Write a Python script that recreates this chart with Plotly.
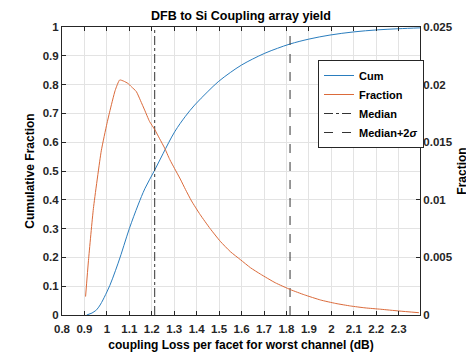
import plotly.graph_objects as go

# Cumulative curve (left axis)
cum_loss = [0.91, 0.95, 1.0, 1.05, 1.1, 1.139, 1.17, 1.213, 1.25, 1.302, 1.35, 1.391, 1.45,
            1.496, 1.55, 1.6, 1.65, 1.704, 1.76, 1.816, 1.9, 1.994, 2.1, 2.204, 2.3, 2.395]
cum_vals = [0.0, 0.015, 0.08, 0.18, 0.30, 0.382, 0.44, 0.503, 0.56, 0.636, 0.69, 0.729, 0.776,
            0.81, 0.842, 0.868, 0.889, 0.909, 0.926, 0.941, 0.958, 0.972, 0.983, 0.99, 0.994, 0.997]

# Fraction curve (right axis)
frac_loss = [0.905, 0.918, 0.94, 0.975, 1.0, 1.012, 1.037, 1.057, 1.075, 1.094, 1.11,
             1.131, 1.15, 1.168, 1.19, 1.213, 1.235, 1.257, 1.28, 1.302, 1.327, 1.35, 1.377,
             1.416, 1.46, 1.505, 1.55, 1.595, 1.64, 1.684, 1.75, 1.818, 1.88, 1.952, 2.02,
             2.086, 2.15, 2.22, 2.3, 2.39]
frac_vals = [0.0016, 0.00475, 0.00925, 0.01425, 0.0166, 0.0176, 0.0195, 0.0204, 0.0203,
             0.0201, 0.0198, 0.0194, 0.0186, 0.0178, 0.0168, 0.0161, 0.0153, 0.0145, 0.0135,
             0.0127, 0.0118, 0.0109, 0.0099, 0.0087, 0.0075, 0.0064, 0.0055, 0.0048, 0.0041,
             0.00355, 0.0028, 0.0022, 0.00175, 0.0013, 0.0010, 0.00078, 0.00062, 0.0005,
             0.00035, 0.0002]

median = 1.213
median_2sigma = 1.816

x_ticks = [0.8, 0.9, 1.0, 1.1, 1.2, 1.3, 1.4, 1.5, 1.6, 1.7, 1.8, 1.9, 2.0, 2.1, 2.2, 2.3]
x_ticktext = ["0.8", "0.9", "1", "1.1", "1.2", "1.3", "1.4", "1.5", "1.6", "1.7", "1.8",
              "1.9", "2", "2.1", "2.2", "2.3"]
y_ticks = [0, 0.1, 0.2, 0.3, 0.4, 0.5, 0.6, 0.7, 0.8, 0.9, 1.0]
y_ticktext = ["0", "0.1", "0.2", "0.3", "0.4", "0.5", "0.6", "0.7", "0.8", "0.9", "1"]
y2_ticks = [0, 0.005, 0.01, 0.015, 0.02, 0.025]
y2_ticktext = ["0", "0.005", "0.01", "0.015", "0.02", "0.025"]

FONT = "Liberation Sans, Arial, sans-serif"
tickfont = dict(family=FONT, size=11.5, color="#262626", weight="bold")
labfont = dict(family=FONT, size=12, color="#000000")

# page body has an 8px margin, so the figure is 8px smaller than the window
W, H = 466, 347

fig = go.Figure()
fig.add_trace(go.Scatter(x=cum_loss, y=cum_vals, mode="lines", name="Cum",
                         line=dict(color="#2A7DBE", width=1, shape="spline"), yaxis="y"))
fig.add_trace(go.Scatter(x=frac_loss, y=frac_vals, mode="lines", name="Fraction",
                         line=dict(color="#DB6A3A", width=1, shape="spline", smoothing=0.5),
                         yaxis="y2"))
fig.add_trace(go.Scatter(x=[median, median], y=[0, 1], mode="lines", name="Median",
                         line=dict(color="#333333", width=1, dash="dashdot"), yaxis="y"))
fig.add_trace(go.Scatter(x=[median_2sigma, median_2sigma], y=[0, 1], mode="lines",
                         name="Median+2<i>σ</i>",
                         line=dict(color="#333333", width=1, dash="dash"), yaxis="y"))

fig.update_layout(
    width=W, height=H,
    margin=dict(l=54, r=54, t=19, b=40, autoexpand=False),
    paper_bgcolor="white", plot_bgcolor="white",
    font=dict(family=FONT, color="#262626"),
    title=dict(text="<b>DFB to Si Coupling array yield</b>", x=0.5, xref="paper",
               xanchor="center", y=1 - 7.5 / H, yanchor="middle",
               font=dict(family=FONT, size=12.5, color="#000000")),
    xaxis=dict(range=[0.8, 2.395], tickvals=x_ticks, ticktext=x_ticktext,
               showgrid=True, gridcolor="#e3e3e3", gridwidth=1, zeroline=False,
               showline=True, linecolor="#262626", linewidth=1, mirror="ticks",
               ticks="inside", ticklen=4, tickcolor="#262626", tickfont=tickfont,
               ticklabelstandoff=3, automargin=False,
               title=dict(text="<b>coupling Loss per facet for worst channel (dB)</b>",
                          font=labfont, standoff=6)),
    yaxis=dict(range=[0, 1], tickvals=y_ticks, ticktext=y_ticktext,
               showgrid=True, gridcolor="#e3e3e3", gridwidth=1, zeroline=False,
               showline=True, linecolor="#262626", linewidth=1, automargin=False,
               ticks="inside", ticklen=4, tickcolor="#262626", tickfont=tickfont,
               title=dict(text="<b>Cumulative Fraction</b>", font=labfont, standoff=5)),
    yaxis2=dict(range=[0, 0.025], tickvals=y2_ticks, ticktext=y2_ticktext,
                overlaying="y", side="right", showgrid=False, zeroline=False,
                showline=True, linecolor="#262626", linewidth=1, automargin=False,
                ticks="inside", ticklen=4, tickcolor="#262626", tickfont=tickfont,
                title=dict(text="<b>Fraction</b>", font=labfont, standoff=5)),
    legend=dict(x=(318 - 62) / 358, y=(315 - 60) / 288, xanchor="left", yanchor="top",
                bgcolor="white", bordercolor="#262626", borderwidth=1,
                font=dict(family=FONT, size=11, color="#000000", weight="bold"),
                tracegroupgap=0, itemwidth=30),
    showlegend=True,
)

fig.write_html("out.html")
